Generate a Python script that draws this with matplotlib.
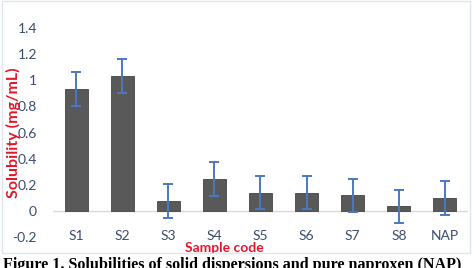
import matplotlib.pyplot as plt
from matplotlib.patches import Rectangle

# данные
samples = ['S1', 'S2', 'S3', 'S4', 'S5', 'S6', 'S7', 'S8', 'NAP']
solubility = [0.935, 1.03, 0.072, 0.245, 0.14, 0.14, 0.118, 0.035, 0.098]
errors = [0.13, 0.13, 0.13, 0.13, 0.125, 0.125, 0.128, 0.125, 0.13]

plt.rcParams['font.family'] = ['Lato', 'DejaVu Sans']

fig = plt.figure(figsize=(4.74, 2.68), dpi=100)
ax = fig.add_axes([53 / 474, 1 - 237 / 268, 415 / 474, 209 / 268])

# рамка области диаграммы
fig.patches.append(Rectangle((2 / 474, 1 - 253 / 268), 468 / 474, 252 / 268,
                             transform=fig.transFigure, fill=False,
                             edgecolor='#dfe5ee', linewidth=1))

x = range(len(samples))
ax.bar(x, solubility, width=0.5, color='#595959', edgecolor='#444444',
       linewidth=0.6, zorder=2)
ax.errorbar(x, solubility, yerr=errors, fmt='none', ecolor='#4a78c0',
            elinewidth=1.4, capsize=3.5, capthick=1.4, zorder=3)
ax.axhline(0, color='#d9d9d9', linewidth=1, zorder=1)

ax.set_xlim(-0.5, len(samples) - 0.5)
ax.set_ylim(-0.2, 1.4)
ax.set_yticks([-0.2, 0, 0.2, 0.4, 0.6, 0.8, 1, 1.2, 1.4])
ax.set_yticklabels(['-0.2', '0', '0.2', '0.4', '0.6', '0.8', '1', '1.2', '1.4'])
ax.set_xticks(list(x))
ax.set_xticklabels(samples)
ax.tick_params(axis='both', length=0, labelsize=10, labelcolor='#3b4d6b')
ax.tick_params(axis='y', pad=11.5)
ax.tick_params(axis='x', pad=-5)
for s in ax.spines.values():
    s.set_visible(False)

ax.set_ylabel('Solubility (mg/mL)', color='#e3172b', fontsize=11.5,
              fontweight='bold')
ax.yaxis.set_label_coords(-0.077, 0.5)
ax.set_xlabel('Sample code', color='#e3172b', fontsize=10, fontweight='bold')
ax.xaxis.set_label_coords(0.414, -0.025)

fig.text(3 / 474, 1 - 257 / 268,
         'Figure 1. Solubilities of solid dispersions and pure naproxen (NAP)',
         family='Liberation Serif', fontweight='bold', fontsize=11.6,
         va='top', ha='left', color='black')

fig.savefig('out.png', dpi=100)
